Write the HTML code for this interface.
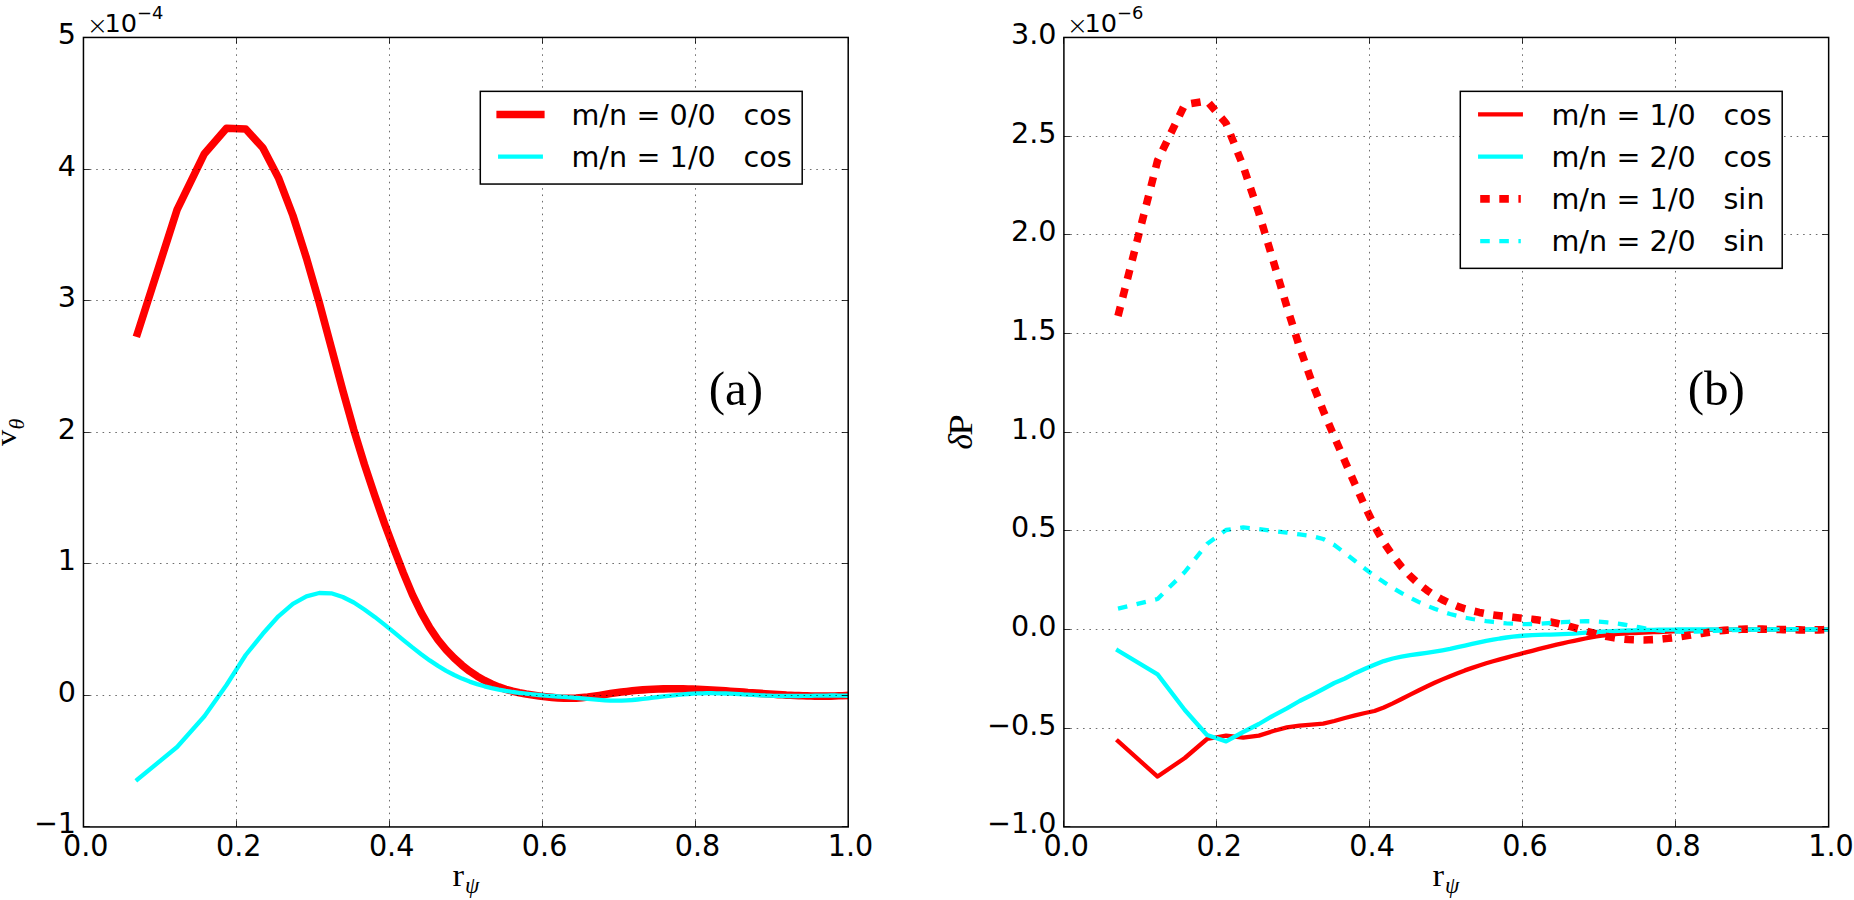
<!DOCTYPE html>
<html lang="en"><head><meta charset="utf-8"><title>Poloidal velocity and pressure perturbation harmonics</title>
<style>html,body{margin:0;padding:0;background:#fff}body{width:1854px;height:900px;overflow:hidden}svg{display:block}
.t{font-family:"DejaVu Sans","Liberation Sans",sans-serif;font-size:28.6px;fill:#000}
.s{font-family:"Liberation Serif","DejaVu Serif",serif;fill:#000}
.g{stroke:#000;stroke-opacity:.72;stroke-width:.8;stroke-dasharray:1.593 4.7795;fill:none}
.k{stroke:#000;stroke-width:.8;fill:none}
.sp{stroke:#000;stroke-width:1.5;fill:none}
.c{fill:none;stroke-linejoin:round;stroke-linecap:square}
.d{fill:none;stroke-linejoin:round;stroke-linecap:butt}
</style></head><body>
<svg width="1854" height="900" viewBox="0 0 1854 900">
<rect width="1854" height="900" fill="#fff"/>
<g>
<clipPath id="cpa"><rect x="83.45" y="37.45" width="764.75" height="789.50"/></clipPath>
<g clip-path="url(#cpa)">
<polyline class="c" stroke="#f00" stroke-width="7.6" points="137.5,333.3 177.1,209.7 204.4,153.7 226.5,128.3 245.7,129.0 262.8,147.7 278.4,177.7 292.9,215.5 306.4,258.0 319.2,302.4 331.3,347.4 342.8,390.5 353.8,429.8 364.4,464.4 374.7,495.4 384.5,523.4 394.1,549.2 403.4,573.1 412.4,594.6 421.2,612.7 429.7,627.6 438.0,639.8 446.2,649.9 454.2,658.2 462.0,665.2 469.6,671.2 477.1,676.2 484.5,680.5 491.7,684.0 498.8,686.9 505.8,689.3 512.7,691.2 519.4,692.7 526.1,694.0 532.6,695.0 539.1,695.9 545.5,696.7 551.8,697.4 558.0,698.0 564.1,698.3 570.1,698.3 576.1,698.1 582.0,697.6 587.8,697.0 593.6,696.2 599.3,695.4 604.9,694.5 610.5,693.6 616.0,692.8 621.5,692.1 626.9,691.4 632.3,690.8 637.6,690.3 642.8,689.9 648.0,689.5 653.2,689.2 658.3,689.0 663.4,688.9 668.4,688.8 673.3,688.8 678.3,688.8 683.2,688.9 688.0,689.0 692.9,689.1 697.6,689.3 702.4,689.5 707.1,689.7 711.8,690.0 716.4,690.3 721.0,690.5 725.6,690.8 730.1,691.2 734.6,691.5 739.1,691.8 743.5,692.1 747.9,692.5 752.3,692.8 756.7,693.1 761.0,693.4 765.3,693.7 769.6,694.0 773.8,694.3 778.1,694.6 782.3,694.8 786.4,695.1 790.6,695.3 794.7,695.5 798.8,695.6 802.9,695.8 806.9,695.9 811.0,696.0 815.0,696.1 819.0,696.1 822.9,696.1 826.9,696.1 830.8,696.1 834.7,696.0 838.6,695.8 842.4,695.7 846.3,695.5"/>
<polyline class="c" stroke="#0ff" stroke-width="4.3" points="137.5,779.5 177.1,747.0 204.4,716.3 226.5,685.0 245.7,655.0 262.8,633.8 278.4,616.3 292.9,603.8 306.4,596.3 319.2,593.0 331.3,593.3 342.8,597.0 353.8,602.5 364.4,609.5 374.7,616.9 384.5,624.6 394.1,632.4 403.4,640.1 412.4,647.4 421.2,654.2 429.7,660.4 438.0,665.9 446.2,670.8 454.2,675.0 462.0,678.6 469.6,681.6 477.1,684.1 484.5,686.3 491.7,688.1 498.8,689.6 505.8,690.9 512.7,692.0 519.4,692.9 526.1,693.7 532.6,694.4 539.1,695.0 545.5,695.6 551.8,696.0 558.0,696.5 564.1,696.9 570.1,697.4 576.1,697.9 582.0,698.4 587.8,698.9 593.6,699.4 599.3,699.9 604.9,700.3 610.5,700.6 616.0,700.7 621.5,700.6 626.9,700.3 632.3,700.0 637.6,699.5 642.8,698.9 648.0,698.3 653.2,697.6 658.3,697.0 663.4,696.4 668.4,695.8 673.3,695.3 678.3,694.8 683.2,694.3 688.0,694.0 692.9,693.7 697.6,693.4 702.4,693.3 707.1,693.2 711.8,693.2 716.4,693.3 721.0,693.4 725.6,693.5 730.1,693.7 734.6,693.9 739.1,694.1 743.5,694.4 747.9,694.6 752.3,694.8 756.7,695.1 761.0,695.3 765.3,695.5 769.6,695.6 773.8,695.8 778.1,695.9 782.3,696.0 786.4,696.0 790.6,696.0 794.7,696.0 798.8,696.0 802.9,695.9 806.9,695.8 811.0,695.8 815.0,695.7 819.0,695.6 822.9,695.6 826.9,695.6 830.8,695.5 834.7,695.5 838.6,695.6 842.4,695.6 846.3,695.7"/>
</g>
<path class="k" d="M83.50 826.95v-6.4M83.50 37.45v6.4"/>
<text class="t" transform="translate(85.75 855.8) scale(1 1.04)" text-anchor="middle">0.0</text>
<path class="g" d="M236.50 826.95V37.45"/>
<path class="k" d="M236.50 826.95v-6.4M236.50 37.45v6.4"/>
<text class="t" transform="translate(238.70 855.8) scale(1 1.04)" text-anchor="middle">0.2</text>
<path class="g" d="M389.50 826.95V37.45"/>
<path class="k" d="M389.50 826.95v-6.4M389.50 37.45v6.4"/>
<text class="t" transform="translate(391.65 855.8) scale(1 1.04)" text-anchor="middle">0.4</text>
<path class="g" d="M542.50 826.95V37.45"/>
<path class="k" d="M542.50 826.95v-6.4M542.50 37.45v6.4"/>
<text class="t" transform="translate(544.60 855.8) scale(1 1.04)" text-anchor="middle">0.6</text>
<path class="g" d="M695.50 826.95V37.45"/>
<path class="k" d="M695.50 826.95v-6.4M695.50 37.45v6.4"/>
<text class="t" transform="translate(697.55 855.8) scale(1 1.04)" text-anchor="middle">0.8</text>
<path class="k" d="M848.50 826.95v-6.4M848.50 37.45v6.4"/>
<text class="t" transform="translate(850.50 855.8) scale(1 1.04)" text-anchor="middle">1.0</text>
<path class="k" d="M83.45 826.50h6.4M848.20 826.50h-6.4"/>
<text class="t" x="76.05" y="833.40" text-anchor="end">−1</text>
<path class="g" d="M83.45 695.50H848.20"/>
<path class="k" d="M83.45 695.50h6.4M848.20 695.50h-6.4"/>
<text class="t" x="76.05" y="702.40" text-anchor="end">0</text>
<path class="g" d="M83.45 563.50H848.20"/>
<path class="k" d="M83.45 563.50h6.4M848.20 563.50h-6.4"/>
<text class="t" x="76.05" y="570.40" text-anchor="end">1</text>
<path class="g" d="M83.45 432.50H848.20"/>
<path class="k" d="M83.45 432.50h6.4M848.20 432.50h-6.4"/>
<text class="t" x="76.05" y="439.40" text-anchor="end">2</text>
<path class="g" d="M83.45 300.50H848.20"/>
<path class="k" d="M83.45 300.50h6.4M848.20 300.50h-6.4"/>
<text class="t" x="76.05" y="307.40" text-anchor="end">3</text>
<path class="g" d="M83.45 169.50H848.20"/>
<path class="k" d="M83.45 169.50h6.4M848.20 169.50h-6.4"/>
<text class="t" x="76.05" y="176.40" text-anchor="end">4</text>
<path class="k" d="M83.45 37.50h6.4M848.20 37.50h-6.4"/>
<text class="t" x="76.05" y="44.40" text-anchor="end">5</text>
<rect class="sp" x="83.45" y="37.45" width="764.75" height="789.50"/>
</g>
<g>
<clipPath id="cpb"><rect x="1063.90" y="37.45" width="764.75" height="789.50"/></clipPath>
<g clip-path="url(#cpb)">
<polyline class="c" stroke="#f00" stroke-width="4.3" points="1118.0,741.2 1157.6,776.6 1184.8,758.0 1207.0,739.0 1226.1,735.6 1243.2,737.6 1258.9,735.6 1273.3,731.0 1286.9,727.4 1299.6,725.6 1311.7,724.6 1323.2,723.6 1334.3,721.0 1344.9,718.0 1355.1,715.4 1365.0,713.0 1374.5,711.0 1383.8,707.5 1392.8,703.4 1401.6,699.0 1410.2,694.6 1418.5,690.5 1426.7,686.5 1434.6,682.8 1442.4,679.4 1450.1,676.2 1457.6,673.2 1464.9,670.4 1472.2,667.9 1479.3,665.5 1486.2,663.3 1493.1,661.3 1499.9,659.4 1506.5,657.6 1513.1,655.8 1519.6,654.1 1525.9,652.4 1532.2,650.8 1538.4,649.2 1544.5,647.7 1550.6,646.2 1556.6,644.7 1562.5,643.4 1568.3,642.0 1574.1,640.8 1579.8,639.6 1585.4,638.5 1591.0,637.4 1596.5,636.5 1601.9,635.7 1607.4,635.0 1612.7,634.4 1618.0,633.9 1623.3,633.5 1628.5,633.2 1633.6,633.0 1638.7,632.8 1643.8,632.6 1648.8,632.4 1653.8,632.2 1658.7,632.0 1663.6,631.8 1668.5,631.6 1673.3,631.4 1678.1,631.2 1682.8,630.9 1687.5,630.7 1692.2,630.6 1696.8,630.4 1701.4,630.2 1706.0,630.1 1710.6,629.9 1715.1,629.8 1719.5,629.7 1724.0,629.7 1728.4,629.6 1732.8,629.6 1737.1,629.5 1741.5,629.5 1745.8,629.5 1750.0,629.5 1754.3,629.5 1758.5,629.5 1762.7,629.5 1766.9,629.5 1771.0,629.5 1775.2,629.6 1779.3,629.6 1783.3,629.6 1787.4,629.6 1791.4,629.6 1795.4,629.6 1799.4,629.7 1803.4,629.7 1807.3,629.7 1811.2,629.6 1815.1,629.6 1819.0,629.6 1822.9,629.6 1826.7,629.5"/>
<polyline class="c" stroke="#0ff" stroke-width="4.3" points="1118.0,650.5 1157.6,674.4 1184.8,710.0 1207.0,735.0 1226.1,741.4 1243.2,732.0 1258.9,724.0 1273.3,715.6 1286.9,708.4 1299.6,701.0 1311.7,695.0 1323.2,689.0 1334.3,683.0 1344.9,678.5 1355.1,673.2 1365.0,668.8 1374.5,664.8 1383.8,661.1 1392.8,658.5 1401.6,656.7 1410.2,655.2 1418.5,654.0 1426.7,652.8 1434.6,651.6 1442.4,650.3 1450.1,648.9 1457.6,647.2 1464.9,645.6 1472.2,643.9 1479.3,642.4 1486.2,640.9 1493.1,639.7 1499.9,638.5 1506.5,637.5 1513.1,636.7 1519.6,636.0 1525.9,635.5 1532.2,635.1 1538.4,634.9 1544.5,634.7 1550.6,634.6 1556.6,634.4 1562.5,634.2 1568.3,633.9 1574.1,633.6 1579.8,633.1 1585.4,632.7 1591.0,632.3 1596.5,632.0 1601.9,631.7 1607.4,631.4 1612.7,631.1 1618.0,630.9 1623.3,630.6 1628.5,630.5 1633.6,630.3 1638.7,630.1 1643.8,630.0 1648.8,629.9 1653.8,629.8 1658.7,629.7 1663.6,629.7 1668.5,629.6 1673.3,629.6 1678.1,629.5 1682.8,629.5 1687.5,629.5 1692.2,629.4 1696.8,629.4 1701.4,629.4 1706.0,629.4 1710.6,629.4 1715.1,629.4 1719.5,629.4 1724.0,629.4 1728.4,629.4 1732.8,629.4 1737.1,629.5 1741.5,629.5 1745.8,629.5 1750.0,629.5 1754.3,629.5 1758.5,629.5 1762.7,629.5 1766.9,629.5 1771.0,629.5 1775.2,629.5 1779.3,629.5 1783.3,629.5 1787.4,629.5 1791.4,629.5 1795.4,629.5 1799.4,629.5 1803.4,629.5 1807.3,629.5 1811.2,629.5 1815.1,629.5 1819.0,629.5 1822.9,629.5 1826.7,629.5"/>
<polyline class="d" stroke="#f00" stroke-width="7.6" stroke-dasharray="9.55 9.55" points="1118.0,316.0 1157.6,160.5 1184.8,104.5 1207.0,100.9 1226.1,123.4 1243.2,166.2 1258.9,213.1 1273.3,261.1 1286.9,306.8 1299.6,347.2 1311.7,381.4 1323.2,410.7 1334.3,436.9 1344.9,461.2 1355.1,484.5 1365.0,506.5 1374.5,526.0 1383.8,542.4 1392.8,555.8 1401.6,566.9 1410.2,576.0 1418.5,583.7 1426.7,590.1 1434.6,595.4 1442.4,599.8 1450.1,603.4 1457.6,606.4 1464.9,608.8 1472.2,610.8 1479.3,612.4 1486.2,613.7 1493.1,614.9 1499.9,615.8 1506.5,616.6 1513.1,617.3 1519.6,618.0 1525.9,618.6 1532.2,619.3 1538.4,620.1 1544.5,621.0 1550.6,622.0 1556.6,623.2 1562.5,624.6 1568.3,626.1 1574.1,627.7 1579.8,629.3 1585.4,630.9 1591.0,632.5 1596.5,634.0 1601.9,635.4 1607.4,636.6 1612.7,637.6 1618.0,638.4 1623.3,639.0 1628.5,639.5 1633.6,639.8 1638.7,640.0 1643.8,640.0 1648.8,639.8 1653.8,639.6 1658.7,639.3 1663.6,638.8 1668.5,638.3 1673.3,637.7 1678.1,637.0 1682.8,636.3 1687.5,635.6 1692.2,634.8 1696.8,634.1 1701.4,633.4 1706.0,632.7 1710.6,632.0 1715.1,631.4 1719.5,630.8 1724.0,630.4 1728.4,630.0 1732.8,629.7 1737.1,629.4 1741.5,629.3 1745.8,629.1 1750.0,629.1 1754.3,629.0 1758.5,629.1 1762.7,629.1 1766.9,629.2 1771.0,629.3 1775.2,629.4 1779.3,629.5 1783.3,629.6 1787.4,629.7 1791.4,629.8 1795.4,629.8 1799.4,629.9 1803.4,630.0 1807.3,630.0 1811.2,630.0 1815.1,629.9 1819.0,629.9 1822.9,629.7 1826.7,629.6"/>
<polyline class="d" stroke="#0ff" stroke-width="4.3" stroke-dasharray="9.55 9.55" points="1118.0,608.6 1157.6,599.0 1184.8,572.0 1207.0,544.0 1226.1,530.0 1243.2,527.4 1258.9,529.0 1273.3,531.0 1286.9,532.6 1299.6,534.4 1311.7,536.0 1323.2,539.0 1334.3,545.0 1344.9,553.0 1355.1,561.0 1365.0,568.7 1374.5,575.7 1383.8,582.1 1392.8,587.9 1401.6,593.1 1410.2,597.7 1418.5,601.9 1426.7,605.6 1434.6,608.8 1442.4,611.6 1450.1,614.0 1457.6,616.0 1464.9,617.6 1472.2,619.0 1479.3,620.1 1486.2,621.1 1493.1,621.9 1499.9,622.7 1506.5,623.3 1513.1,623.7 1519.6,624.0 1525.9,624.1 1532.2,624.0 1538.4,623.8 1544.5,623.4 1550.6,623.0 1556.6,622.6 1562.5,622.2 1568.3,621.8 1574.1,621.5 1579.8,621.3 1585.4,621.2 1591.0,621.3 1596.5,621.5 1601.9,621.9 1607.4,622.4 1612.7,623.0 1618.0,623.7 1623.3,624.5 1628.5,625.4 1633.6,626.3 1638.7,627.2 1643.8,628.1 1648.8,629.0 1653.8,629.8 1658.7,630.4 1663.6,630.9 1668.5,631.3 1673.3,631.6 1678.1,631.7 1682.8,631.8 1687.5,631.7 1692.2,631.7 1696.8,631.5 1701.4,631.4 1706.0,631.2 1710.6,631.0 1715.1,630.8 1719.5,630.6 1724.0,630.5 1728.4,630.3 1732.8,630.2 1737.1,630.0 1741.5,629.9 1745.8,629.8 1750.0,629.7 1754.3,629.6 1758.5,629.5 1762.7,629.5 1766.9,629.4 1771.0,629.4 1775.2,629.3 1779.3,629.3 1783.3,629.3 1787.4,629.2 1791.4,629.2 1795.4,629.2 1799.4,629.2 1803.4,629.3 1807.3,629.3 1811.2,629.3 1815.1,629.3 1819.0,629.4 1822.9,629.4 1826.7,629.5"/>
</g>
<path class="k" d="M1063.50 826.95v-6.4M1063.50 37.45v6.4"/>
<text class="t" transform="translate(1066.20 855.8) scale(1 1.04)" text-anchor="middle">0.0</text>
<path class="g" d="M1216.50 826.95V37.45"/>
<path class="k" d="M1216.50 826.95v-6.4M1216.50 37.45v6.4"/>
<text class="t" transform="translate(1219.15 855.8) scale(1 1.04)" text-anchor="middle">0.2</text>
<path class="g" d="M1369.50 826.95V37.45"/>
<path class="k" d="M1369.50 826.95v-6.4M1369.50 37.45v6.4"/>
<text class="t" transform="translate(1372.10 855.8) scale(1 1.04)" text-anchor="middle">0.4</text>
<path class="g" d="M1522.50 826.95V37.45"/>
<path class="k" d="M1522.50 826.95v-6.4M1522.50 37.45v6.4"/>
<text class="t" transform="translate(1525.05 855.8) scale(1 1.04)" text-anchor="middle">0.6</text>
<path class="g" d="M1675.50 826.95V37.45"/>
<path class="k" d="M1675.50 826.95v-6.4M1675.50 37.45v6.4"/>
<text class="t" transform="translate(1678.00 855.8) scale(1 1.04)" text-anchor="middle">0.8</text>
<path class="k" d="M1828.50 826.95v-6.4M1828.50 37.45v6.4"/>
<text class="t" transform="translate(1830.95 855.8) scale(1 1.04)" text-anchor="middle">1.0</text>
<path class="k" d="M1063.90 826.50h6.4M1828.65 826.50h-6.4"/>
<text class="t" x="1056.50" y="833.40" text-anchor="end">−1.0</text>
<path class="g" d="M1063.90 728.50H1828.65"/>
<path class="k" d="M1063.90 728.50h6.4M1828.65 728.50h-6.4"/>
<text class="t" x="1056.50" y="735.40" text-anchor="end">−0.5</text>
<path class="g" d="M1063.90 629.50H1828.65"/>
<path class="k" d="M1063.90 629.50h6.4M1828.65 629.50h-6.4"/>
<text class="t" x="1056.50" y="636.40" text-anchor="end">0.0</text>
<path class="g" d="M1063.90 530.50H1828.65"/>
<path class="k" d="M1063.90 530.50h6.4M1828.65 530.50h-6.4"/>
<text class="t" x="1056.50" y="537.40" text-anchor="end">0.5</text>
<path class="g" d="M1063.90 432.50H1828.65"/>
<path class="k" d="M1063.90 432.50h6.4M1828.65 432.50h-6.4"/>
<text class="t" x="1056.50" y="439.40" text-anchor="end">1.0</text>
<path class="g" d="M1063.90 333.50H1828.65"/>
<path class="k" d="M1063.90 333.50h6.4M1828.65 333.50h-6.4"/>
<text class="t" x="1056.50" y="340.40" text-anchor="end">1.5</text>
<path class="g" d="M1063.90 234.50H1828.65"/>
<path class="k" d="M1063.90 234.50h6.4M1828.65 234.50h-6.4"/>
<text class="t" x="1056.50" y="241.40" text-anchor="end">2.0</text>
<path class="g" d="M1063.90 136.50H1828.65"/>
<path class="k" d="M1063.90 136.50h6.4M1828.65 136.50h-6.4"/>
<text class="t" x="1056.50" y="143.40" text-anchor="end">2.5</text>
<path class="k" d="M1063.90 37.50h6.4M1828.65 37.50h-6.4"/>
<text class="t" x="1056.50" y="44.40" text-anchor="end">3.0</text>
<rect class="sp" x="1063.90" y="37.45" width="764.75" height="789.50"/>
</g>
<text x="86.8" y="34.2" style="font-family:'DejaVu Sans Light','DejaVu Sans',sans-serif;font-size:25.5px">×</text>
<text class="t" x="104.4" y="32" style="font-size:25.6px">10</text>
<text class="t" x="137.0" y="18.6" style="font-size:17.9px">−4</text>
<text x="1066.8" y="34.2" style="font-family:'DejaVu Sans Light','DejaVu Sans',sans-serif;font-size:25.5px">×</text>
<text class="t" x="1084.4" y="32" style="font-size:25.6px">10</text>
<text class="t" x="1117.0" y="18.6" style="font-size:17.9px">−6</text>
<text class="s" transform="translate(452.4 885.6) scale(1.08 1)" font-size="32">r</text>
<text class="s" x="465.0" y="893" font-size="23" font-style="italic">ψ</text>
<text class="s" transform="translate(1432.4 885.6) scale(1.08 1)" font-size="32">r</text>
<text class="s" x="1445.0" y="893" font-size="23" font-style="italic">ψ</text>
<g transform="translate(16 446) rotate(-90)"><text class="s" x="0" y="0" font-size="29.5" transform="scale(1.1 1)">v</text><text class="s" x="16.5" y="8" font-size="22" font-style="italic">θ</text></g>
<g transform="translate(972 450) rotate(-90)"><text class="s" x="0.5" y="0" font-size="33" font-style="italic">δ</text><text class="s" transform="translate(14.3 0) scale(1.17 1)" font-size="33">P</text></g>
<text class="s" x="708.8" y="404.8" font-size="49">(a)</text>
<text class="s" x="1687.8" y="404.8" font-size="49">(b)</text>
<rect x="480.30" y="91.35" width="321.90" height="92.70" fill="#fff" stroke="#000" stroke-width="1.5"/>
<path d="M500.20 114.45H540.80" stroke="#f00" stroke-width="7.6" stroke-linecap="square" fill="none"/>
<text class="t" x="571.40" y="124.65" xml:space="preserve" style="letter-spacing:.08px;white-space:pre">m/n = 0/0   cos</text>
<path d="M500.20 156.65H540.80" stroke="#0ff" stroke-width="4.3" stroke-linecap="square" fill="none"/>
<text class="t" x="571.40" y="166.85" xml:space="preserve" style="letter-spacing:.08px;white-space:pre">m/n = 1/0   cos</text>
<rect x="1460.30" y="91.35" width="321.90" height="177.00" fill="#fff" stroke="#000" stroke-width="1.5"/>
<path d="M1480.20 114.45H1520.80" stroke="#f00" stroke-width="4.3" stroke-linecap="square" fill="none"/>
<text class="t" x="1551.40" y="124.65" xml:space="preserve" style="letter-spacing:.08px;white-space:pre">m/n = 1/0   cos</text>
<path d="M1480.20 156.65H1520.80" stroke="#0ff" stroke-width="4.3" stroke-linecap="square" fill="none"/>
<text class="t" x="1551.40" y="166.85" xml:space="preserve" style="letter-spacing:.08px;white-space:pre">m/n = 2/0   cos</text>
<path d="M1480.20 198.85H1520.80" stroke="#f00" stroke-width="7.6" stroke-dasharray="9.55 9.55" fill="none"/>
<text class="t" x="1551.40" y="209.05" xml:space="preserve" style="letter-spacing:.08px;white-space:pre">m/n = 1/0   sin</text>
<path d="M1480.20 241.05H1520.80" stroke="#0ff" stroke-width="4.3" stroke-dasharray="9.55 9.55" fill="none"/>
<text class="t" x="1551.40" y="251.25" xml:space="preserve" style="letter-spacing:.08px;white-space:pre">m/n = 2/0   sin</text>
</svg></body></html>
